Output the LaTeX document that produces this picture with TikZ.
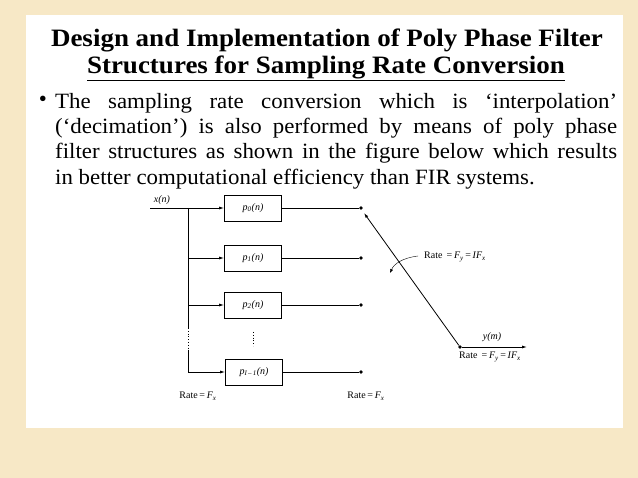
\documentclass[tikz,border=0pt]{standalone}
\usepackage{fontspec}
\setmainfont{Liberation Serif}
\newfontfamily\bodyfont[FakeStretch=1.05,Ligatures=TeX]{Liberation Serif}
\newfontfamily\titlefont[FakeStretch=1.08,Ligatures=TeX]{Liberation Serif}
\usetikzlibrary{arrows.meta}
\definecolor{bg}{HTML}{F7E8C6}
\begin{document}
\begin{tikzpicture}[x=1pt,y=-1pt,
  fbox/.style={draw,thick,minimum width=57pt,minimum height=26pt,inner sep=0pt,font=\fontsize{10}{12}\selectfont\itshape},
  sig/.style={thick,-{Latex[length=5pt,width=3pt]}},
  wire/.style={thick},
  lbl/.style={font=\fontsize{10}{12}\selectfont,inner sep=1pt},
  dotc/.style={circle,fill,inner sep=1.3pt},
  bline/.style={anchor=base west,inner sep=0pt,font=\bodyfont\fontsize{21.8}{25}\selectfont}]
\fill[bg] (0,0) rectangle (638,478);
\useasboundingbox (0,0) rectangle (638,478);
\fill[white] (26,15) rectangle (623,428);
\node[font=\titlefont\bfseries\fontsize{25}{28}\selectfont] (t1) at (327,40) {Design and Implementation of Poly Phase Filter};
\node[font=\titlefont\bfseries\fontsize{25}{28}\selectfont] (t2) at (326,68) {\underline{Structures for Sampling Rate Conversion}};
\node[bline] (l1) at (55,109) {\hbox to 562pt{The sampling rate conversion which is `interpolation'}};
\node[bline] (l2) at (55,134) {\hbox to 562pt{(`decimation') is also performed by means of poly phase}};
\node[bline] (l3) at (55,159) {\hbox to 562pt{filter structures as shown in the figure below which results}};
\node[bline] (l4) at (55,185) {in better computational efficiency than FIR systems.};
\node[font=\fontsize{23}{25}\selectfont] (bul) at (43,101) {\textbullet};
% diagram
\node[fbox] (p0) at (253,208) {p\textsubscript{0}(n)};
\node[fbox] (p1) at (253,258) {p\textsubscript{1}(n)};
\node[fbox] (p2) at (253,305) {p\textsubscript{2}(n)};
\node[fbox] (pI) at (254,372) {p\textsubscript{I\,–\,1}(n)};
\coordinate (in) at (150,208);
\coordinate (b0) at (188,208);
\coordinate (b1) at (188,258);
\coordinate (b2) at (188,305);
\coordinate (bd1) at (188,328);
\coordinate (bd2) at (188,350);
\coordinate (bI) at (188,372);
\node[lbl,anchor=south,font=\fontsize{10}{12}\selectfont\itshape] (xn) at (162,206) {x(n)};
\draw[sig] (in) -- (p0.west);
\draw[wire] (b0) -- (bd1);
\draw[wire,dotted] (bd1) -- (bd2);
\draw[wire] (bd2) -- (bI);
\draw[sig] (b1) -- (p1.west);
\draw[sig] (b2) -- (p2.west);
\draw[sig] (bI) -- (pI.west);
\node[dotc] (d0) at (361,208) {};
\node[dotc] (d1) at (361,258) {};
\node[dotc] (d2) at (361,305) {};
\node[dotc] (dI) at (361,372) {};
\draw[wire] (p0.east) -- (d0);
\draw[wire] (p1.east) -- (d1);
\draw[wire] (p2.east) -- (d2);
\draw[wire] (pI.east) -- (dI);
\draw[wire,dotted] (253,332) -- (253,346);
\node[dotc] (sw) at (460,347) {};
\coordinate (out) at (527,347);
\draw[wire,{Latex[length=5pt,width=3pt]}-] (364,213) -- (sw);
\draw[sig] (sw) -- (out);
\node[lbl,anchor=south,font=\fontsize{10}{12}\selectfont\itshape] (ym) at (492,343) {y(m)};
\draw[thin,-{Latex[length=4pt,width=3pt]}] (418,256) .. controls (402,258) and (394,264) .. (390,273);
\node[lbl,anchor=west] (r1) at (423,257) {Rate \,=\,\textit{F\textsubscript{y}}\,=\,\textit{IF\textsubscript{x}}};
\node[lbl] (r2) at (490,357) {Rate \,=\,\textit{F\textsubscript{y}}\,=\,\textit{IF\textsubscript{x}}};
\node[lbl] (r3) at (198,396) {Rate\,=\,\textit{F\textsubscript{x}}};
\node[lbl] (r4) at (366,396) {Rate\,=\,\textit{F\textsubscript{x}}};
\end{tikzpicture}
\end{document}
